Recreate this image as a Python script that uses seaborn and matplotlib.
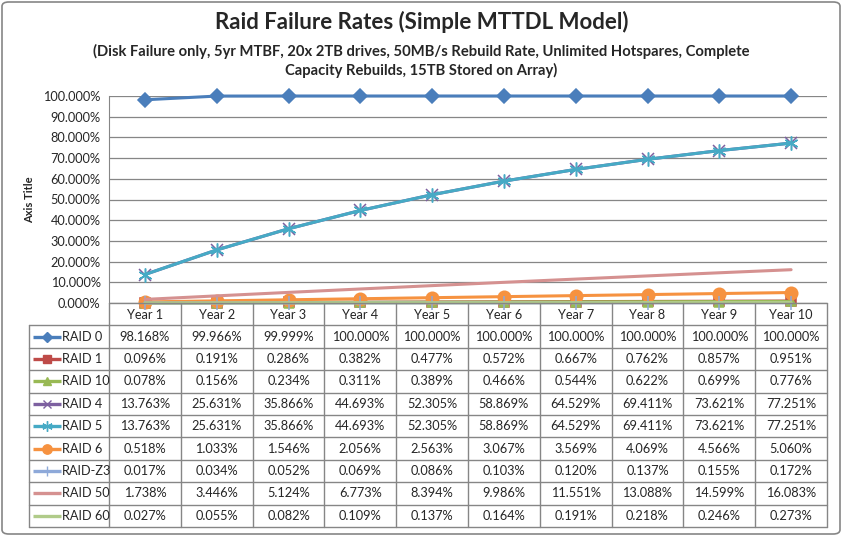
import numpy as np
import pandas as pd
import matplotlib.pyplot as plt
import seaborn as sns
from matplotlib.patches import FancyBboxPatch

# data, in percent
years = ['Year 1', 'Year 2', 'Year 3', 'Year 4', 'Year 5',
         'Year 6', 'Year 7', 'Year 8', 'Year 9', 'Year 10']
raid_names = ['RAID 0', 'RAID 1', 'RAID 10', 'RAID 4', 'RAID 5',
              'RAID 6', 'RAID-Z3', 'RAID 50', 'RAID 60']
raid_0 = [98.168, 99.966, 99.999, 100.000, 100.000, 100.000, 100.000, 100.000, 100.000, 100.000]
raid_1 = [0.096, 0.191, 0.286, 0.382, 0.477, 0.572, 0.667, 0.762, 0.857, 0.951]
raid_10 = [0.078, 0.156, 0.234, 0.311, 0.389, 0.466, 0.544, 0.622, 0.699, 0.776]
raid_4 = [13.763, 25.631, 35.866, 44.693, 52.305, 58.869, 64.529, 69.411, 73.621, 77.251]
raid_5 = [13.763, 25.631, 35.866, 44.693, 52.305, 58.869, 64.529, 69.411, 73.621, 77.251]
raid_6 = [0.518, 1.033, 1.546, 2.056, 2.563, 3.067, 3.569, 4.069, 4.566, 5.060]
raid_z3 = [0.017, 0.034, 0.052, 0.069, 0.086, 0.103, 0.120, 0.137, 0.155, 0.172]
raid_50 = [1.738, 3.446, 5.124, 6.773, 8.394, 9.986, 11.551, 13.088, 14.599, 16.083]
raid_60 = [0.027, 0.055, 0.082, 0.109, 0.137, 0.164, 0.191, 0.218, 0.246, 0.273]
series = [raid_0, raid_1, raid_10, raid_4, raid_5, raid_6, raid_z3, raid_50, raid_60]

colors = ['#4A7EBB', '#BE4B48', '#98B954', '#7D60A0', '#46AAC5',
          '#F69240', '#8EA9D9', '#D59190', '#B0CB89']
markers = ['D', 's', '^', 'x', (6, 2, 0), 'o', '|', None, None]
msizes = [7, 7, 7, 8, 10, 9, 10, 0, 0]

df = pd.DataFrame({
    'raid': np.repeat(raid_names, len(years)),
    'year': years * len(raid_names),
    'pos': list(range(len(years))) * len(raid_names),
    'rate': np.concatenate(series),
})

W, H = 843, 537


def box(l, t, r, b):
    return [l / W, 1 - b / H, (r - l) / W, (b - t) / H]


sns.set_style('white')
plt.rcParams['font.family'] = ['Lato', 'DejaVu Sans']
fs = 9.2

fig = plt.figure(figsize=(W / 100, H / 100), dpi=100)
fig.patches.append(FancyBboxPatch((2 / W, 3 / H), 838 / W, 532 / H,
                                  boxstyle='round,pad=0,rounding_size=0.008',
                                  transform=fig.transFigure, fill=False,
                                  ec='#868686', lw=1.2))

grid_c = '#868686'
ax = fig.add_axes(box(109, 96, 827, 303))
for name, c, m, ms in zip(raid_names, colors, markers, msizes):
    sub = df[df['raid'] == name]
    sns.lineplot(data=sub, x='pos', y='rate', ax=ax, color=c, lw=2.2,
                 marker=m, markersize=ms, markeredgecolor=c, markerfacecolor=c,
                 markeredgewidth=1.1, errorbar=None, legend=False, clip_on=False,
                 zorder=3)

ax.set_xlim(-0.5, len(years) - 0.5)
ax.set_ylim(0, 100)
ticks = np.arange(0, 101, 10)
ax.set_yticks(ticks)
ax.set_yticklabels([f'{t:.3f}%' for t in ticks], fontsize=fs)
ax.set_xticks([])
ax.set_xlabel('')
ax.set_ylabel('')
ax.tick_params(axis='y', length=0, pad=6)
ax.grid(axis='y', color=grid_c, lw=0.9)
for s in ['top', 'right', 'bottom']:
    ax.spines[s].set_visible(False)
ax.spines['left'].set_color(grid_c)

fig.text(30 / W, 1 - 200 / H, 'Axis Title', rotation=90, fontsize=8,
         fontweight='bold', ha='center', va='center')

fig.text(0.5, 1 - 22 / H, 'Raid Failure Rates (Simple MTTDL Model)',
         fontsize=16, fontweight='bold', ha='center', va='center')
fig.text(0.5, 1 - 61 / H,
         '(Disk Failure only, 5yr MTBF, 20x 2TB drives, 50MB/s Rebuild Rate, Unlimited Hotspares, Complete\n'
         'Capacity Rebuilds, 15TB Stored on Array)',
         fontsize=10.6, fontweight='bold', ha='center', va='center',
         multialignment='center', linespacing=1.35)

# data table under the plot, sharing the category columns
cw = (827 - 109) / len(years)
x_left = -0.5 - (109 - 29) / cw
n = len(raid_names)
tab = fig.add_axes(box(29, 303, 827, 527))
tab.set_xlim(x_left, len(years) - 0.5)
tab.set_ylim(n + 1, 0)
tab.axis('off')

for k in range(len(years) + 1):
    tab.plot([k - 0.5, k - 0.5], [0, n + 1], color=grid_c, lw=1, clip_on=False)
tab.plot([x_left, x_left], [1, n + 1], color=grid_c, lw=1, clip_on=False)
tab.plot([-0.5, len(years) - 0.5], [0, 0], color=grid_c, lw=1, clip_on=False)
for r in range(1, n + 2):
    tab.plot([x_left, len(years) - 0.5], [r, r], color=grid_c, lw=1, clip_on=False)

for k, y in enumerate(years):
    tab.text(k, 0.55, y, ha='center', va='center', fontsize=fs)

px = 1 / cw
for i, (name, vals, c, m, ms) in enumerate(zip(raid_names, series, colors, markers, msizes)):
    r = i + 1.5
    tab.plot([x_left + 4 * px, x_left + 32 * px], [r, r], color=c, lw=2.4,
             solid_capstyle='butt', clip_on=False)
    if m is not None:
        tab.plot([x_left + 18 * px], [r], color=c, marker=m, markersize=ms * 0.75,
                 markeredgecolor=c, markeredgewidth=1.0, clip_on=False)
    tab.text(x_left + 33 * px, r, name, ha='left', va='center', fontsize=fs)
    for k, v in enumerate(vals):
        tab.text(k, r, f'{v:.3f}%', ha='center', va='center', fontsize=fs)

fig.savefig('out.png', dpi=100)
